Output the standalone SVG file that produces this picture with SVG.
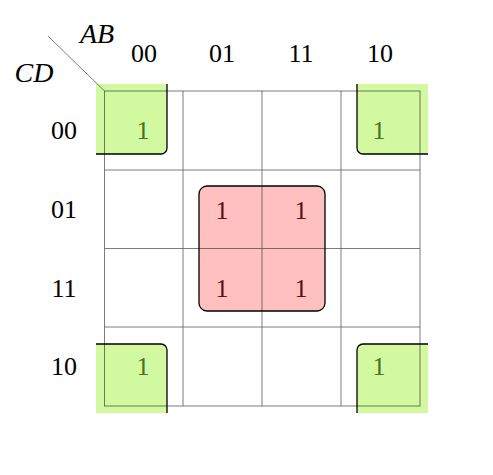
<svg xmlns="http://www.w3.org/2000/svg" width="493" height="475" viewBox="0 0 493 475">
<style>
.t{font-family:"Liberation Serif","DejaVu Serif",serif;font-size:26px;text-anchor:middle;fill:#000}
.i{font-style:italic;font-size:28px}
.g{fill:#d2f9a0}
.gt{fill:#4a7320}
.rt{fill:#5a1010}
.b{fill:none;stroke:#000;stroke-width:1.3}
.grid{stroke:#333;stroke-width:0.8;fill:none;opacity:0.8}
</style>
<rect width="493" height="475" fill="#fff"/>
<g id="fills">
<path class="g" d="M96,84 H167 V148 A6,6 0 0 1 161,154 H96 Z"/>
<path class="g" d="M357,84 H428 V154 H363 A6,6 0 0 1 357,148 Z"/>
<path class="g" d="M96,344 H161 A6,6 0 0 1 167,350 V413 H96 Z"/>
<path class="g" d="M363,344 H428 V413 H357 V350 A6,6 0 0 1 363,344 Z"/>
<rect x="199" y="186" width="126" height="125" rx="8" fill="#ffc0c0"/>
</g>
<g id="grid" class="grid">
<rect x="104.5" y="91" width="315.5" height="315"/>
<line x1="183" y1="91" x2="183" y2="406"/>
<line x1="262" y1="91" x2="262" y2="406"/>
<line x1="341" y1="91" x2="341" y2="406"/>
<line x1="104.5" y1="170" x2="420" y2="170"/>
<line x1="104.5" y1="248.5" x2="420" y2="248.5"/>
<line x1="104.5" y1="327" x2="420" y2="327"/>
<line x1="48" y1="36" x2="104.5" y2="91"/>
</g>
<g id="connectors" class="b">
<path d="M167,84 V148 A6,6 0 0 1 161,154 H96"/>
<path d="M357,84 V148 A6,6 0 0 0 363,154 H428"/>
<path d="M96,344 H161 A6,6 0 0 1 167,350 V413"/>
<path d="M428,344 H363 A6,6 0 0 0 357,350 V413"/>
<rect x="199" y="186" width="126" height="125" rx="8"/>
</g>
<g id="labels">
<text class="t i" x="97" y="43">AB</text>
<text class="t i" x="34" y="82">CD</text>
<text class="t" x="144" y="62">00</text>
<text class="t" x="222" y="62">01</text>
<text class="t" x="301" y="62">11</text>
<text class="t" x="380" y="62">10</text>
<text class="t" x="64" y="139">00</text>
<text class="t" x="64" y="218">01</text>
<text class="t" x="64" y="297">11</text>
<text class="t" x="64" y="375">10</text>
</g>
<g id="cells">
<text class="t gt" x="143" y="139">1</text>
<text class="t gt" x="379" y="139">1</text>
<text class="t gt" x="143" y="375">1</text>
<text class="t gt" x="379" y="375">1</text>
<text class="t rt" x="222" y="219">1</text>
<text class="t rt" x="301" y="219">1</text>
<text class="t rt" x="222" y="297">1</text>
<text class="t rt" x="301" y="297">1</text>
</g>
</svg>
